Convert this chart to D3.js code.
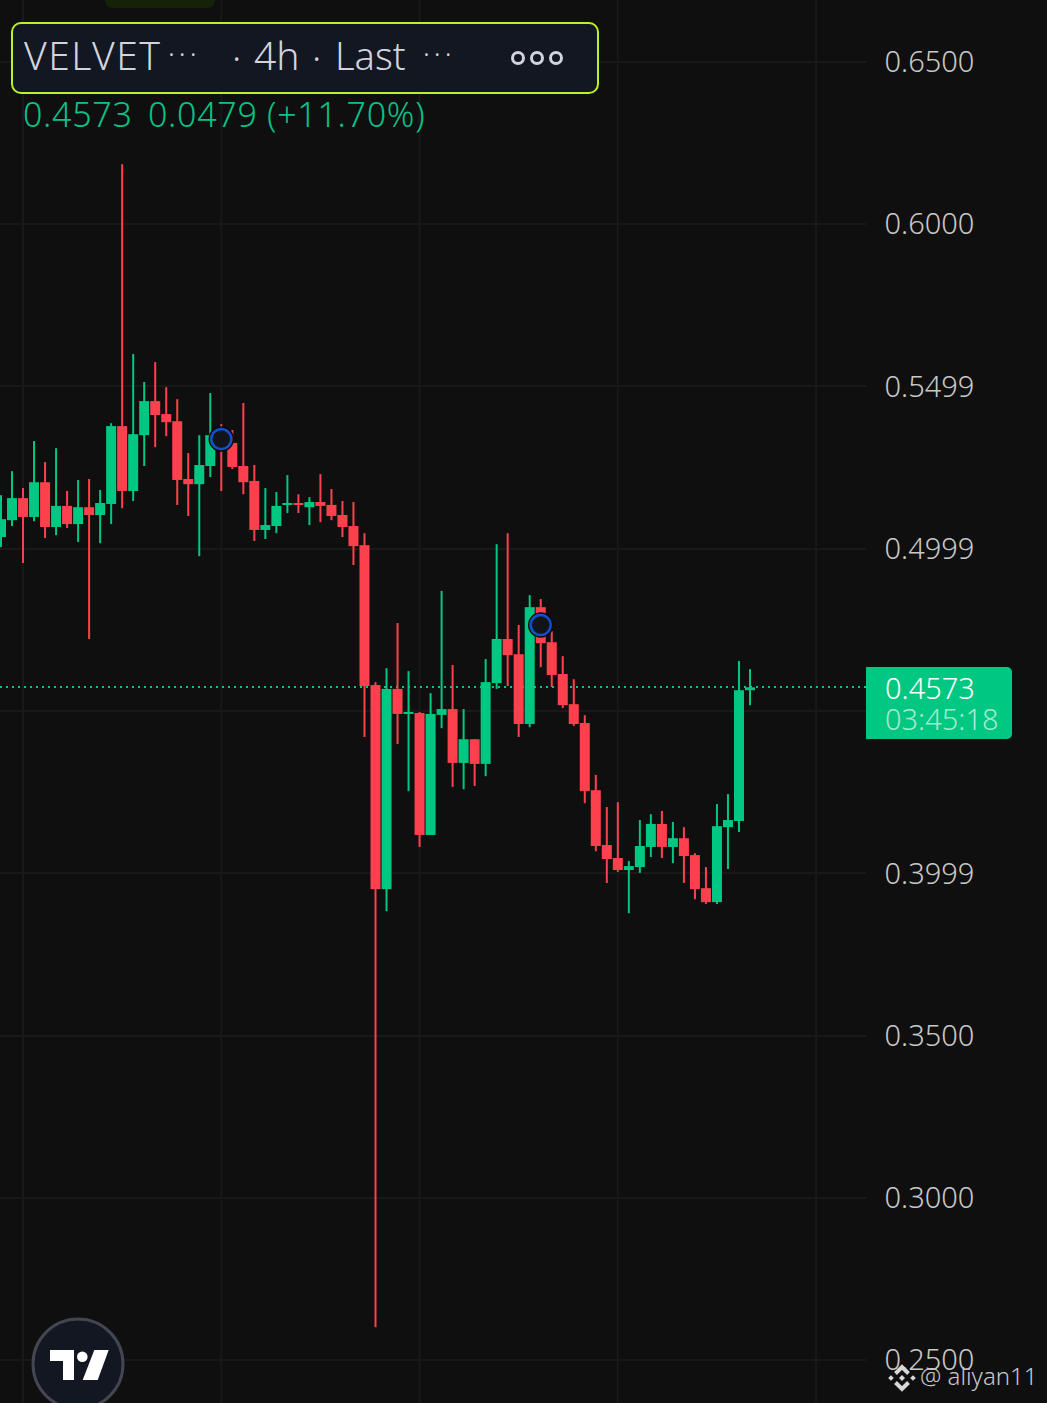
<!DOCTYPE html>
<html>
<head>
<meta charset="utf-8">
<style>
  html, body { margin: 0; padding: 0; background: #0f0f0f; }
  svg { display: block; font-family: "Noto Sans", sans-serif; font-weight: 350; }
</style>
<script src="https://cdn.jsdelivr.net/npm/d3@7"></script>
</head>
<body>
<svg width="1047" height="1403"></svg>
<script>
// candles, oldest first
const opens = [.5036,.5088,.5156,.5098,.5205,.5067,.5132,.5076,.5128,.5104,.5138,.5378,.5178,.5350,.5455,.5415,.5393,.5215,.5199,.5255,.5350,.5326,.5255,.5209,.5058,.5070,.5135,.5141,.5128,.5144,.5135,.5104,.5070,.5011,.4580,.3951,.4568,.4491,.4494,.4118,.4488,.4506,.4340,.4413,.4337,.4586,.4722,.4675,.4460,.4820,.4712,.4614,.4521,.4463,.4256,.4087,.4047,.4010,.4019,.4081,.4152,.4081,.4108,.4056,.3954,.3911,.4142,.4161,.4564];
const highs = [.5165,.5239,.5187,.5332,.5267,.5310,.5178,.5212,.5215,.5181,.5387,.6185,.5600,.5514,.5575,.5498,.5461,.5295,.5350,.5480,.5384,.5366,.5449,.5258,.5187,.5175,.5227,.5168,.5159,.5230,.5184,.5147,.5144,.5048,.4589,.4632,.4771,.4623,.4497,.4555,.4870,.4642,.4506,.4413,.4660,.5014,.5048,.4765,.4857,.4845,.4746,.4669,.4598,.4487,.4303,.4204,.4219,.4038,.4164,.4182,.4192,.4158,.4142,.4062,.4019,.4213,.4244,.4654,.4629];
const lows = [.5005,.5070,.4956,.5085,.5033,.5042,.5064,.5021,.4722,.5017,.5076,.5125,.5147,.5255,.5313,.5347,.5135,.5101,.4977,.5221,.5178,.5246,.5168,.5024,.5030,.5048,.5110,.5110,.5073,.5082,.5088,.5036,.4950,.4420,.2601,.3883,.4398,.4253,.4081,.4118,.4447,.4266,.4259,.4269,.4299,.4568,.4577,.4420,.4450,.4635,.4574,.4509,.4454,.4216,.4068,.3970,.4004,.3877,.4001,.4050,.4047,.4031,.3970,.3920,.3905,.3905,.4013,.4127,.4518];
const closes = [.5091,.5156,.5098,.5205,.5067,.5132,.5076,.5128,.5104,.5141,.5378,.5178,.5353,.5455,.5412,.5390,.5212,.5199,.5258,.5350,.5326,.5252,.5205,.5058,.5073,.5132,.5141,.5135,.5144,.5132,.5101,.5067,.5008,.4577,.3951,.4568,.4491,.4497,.4118,.4491,.4506,.4340,.4413,.4337,.4589,.4722,.4672,.4460,.4820,.4709,.4611,.4518,.4460,.4253,.4084,.4044,.4010,.4022,.4084,.4152,.4081,.4108,.4053,.3951,.3911,.4145,.4164,.4564,.4573];

const priceTicks = [.65, .6, .5499, .4999, .3999, .35, .3, .25];
const gridPrices = [.65, .6, .55, .5, .45, .4, .35, .3, .25];
const gridCandles = [2, 20, 38, 56, 74];
const markerCandles = [20, 49];
const markerPrices = [.5338, .4765];
const lastPrice = 0.4573;
const countdown = "03:45:18";
const legendTexts = ["0.4573", "0.0479 (+11.70%)"];

const GREEN = "#00c781", RED = "#fd404e", BG = "#0f0f0f";

const svg = d3.select("svg");
const y = d3.scaleLinear().domain([.65, .25]).range([62, 1360]);
const x = d3.scaleLinear().domain([0, 68]).range([1, 750]);

svg.append("rect").attr("width", 1047).attr("height", 1403).attr("fill", BG);

// grid
svg.append("g").selectAll("line").data(gridPrices).join("line")
    .attr("x1", 0).attr("x2", 866)
    .attr("y1", d => Math.round(y(d))).attr("y2", d => Math.round(y(d)))
    .attr("stroke", "#191919").attr("stroke-width", 2);
svg.append("g").selectAll("line").data(gridCandles).join("line")
    .attr("x1", d => x(d)).attr("x2", d => x(d))
    .attr("y1", 0).attr("y2", 1403)
    .attr("stroke", "#191919").attr("stroke-width", 2);

// top edge of something cut off by the screenshot
svg.append("rect").attr("x", 105).attr("y", -12).attr("width", 110).attr("height", 20).attr("rx", 8)
    .attr("fill", "#142208");

// price axis
const axis = d3.axisRight(y).tickValues(priceTicks).tickSize(0).tickPadding(0).tickFormat(d3.format(".4f"));
const axisG = svg.append("g").attr("transform", "translate(884.5,-0.5)").call(axis);
axisG.select(".domain").remove();
axisG.selectAll("text").attr("fill", "#c8c8c8").attr("font-size", 29)
    .attr("font-family", "'Noto Sans', sans-serif").attr("font-weight", 350).attr("dy", "0.35em");

// last price line
svg.append("line")
    .attr("x1", 0).attr("x2", 866)
    .attr("y1", Math.round(y(lastPrice))).attr("y2", Math.round(y(lastPrice)))
    .attr("stroke", GREEN).attr("stroke-width", 2).attr("stroke-dasharray", "2 4");

// candles
const candles = opens.map((o, i) => ({i, o, h: highs[i], l: lows[i], c: closes[i]}));
const colour = d => d.c >= d.o ? GREEN : RED;
const candleG = svg.append("g");
candleG.selectAll(".wick").data(candles).join("rect").attr("class", "wick")
    .attr("x", d => x(d.i) - 1).attr("width", 2)
    .attr("y", d => y(d.h)).attr("height", d => y(d.l) - y(d.h))
    .attr("fill", colour);
candleG.selectAll(".body").data(candles).join("rect").attr("class", "body")
    .attr("x", d => x(d.i) - 5).attr("width", 10)
    .attr("y", d => y(Math.max(d.o, d.c)))
    .attr("height", d => Math.max(2, Math.abs(y(d.o) - y(d.c))))
    .attr("fill", colour);

// event markers
svg.append("g").selectAll("circle").data(markerCandles).join("circle")
    .attr("cx", d => x(d))
    .attr("cy", (d, i) => y(markerPrices[i]))
    .attr("r", 10).attr("fill", "#111418")
    .attr("stroke", "#0d50d2").attr("stroke-width", 2.5);
svg.append("g").selectAll("circle").data(markerCandles).join("circle")
    .attr("cx", d => x(d))
    .attr("cy", (d, i) => y(markerPrices[i]))
    .attr("r", 12).attr("fill", "none")
    .attr("stroke", "#0a0a0c").attr("stroke-width", 1.5);

// price label
svg.append("path")
    .attr("d", "M866,667H1007a5,5 0 0 1 5,5V734a5,5 0 0 1 -5,5H866Z")
    .attr("fill", GREEN);
svg.append("text").attr("x", 885).attr("y", 698.5).attr("font-size", 29).attr("fill", "#fff")
    .text(lastPrice.toFixed(4));
svg.append("text").attr("x", 885).attr("y", 730).attr("font-size", 29).attr("fill", "#fff")
    .attr("fill-opacity", .65).text(countdown);

// legend box
svg.append("rect").attr("x", 12).attr("y", 23).attr("width", 586).attr("height", 70).attr("rx", 9)
    .attr("fill", "#131722").attr("stroke", "#b9f227").attr("stroke-width", 2);
const title = svg.append("g").attr("fill", "#d1d4dc").attr("font-size", 38);
title.append("text").attr("x", 24).attr("y", 70).attr("font-size", 39).attr("letter-spacing", 1.5).text("VELVET");
title.append("text").attr("x", 168).attr("y", 64).attr("font-size", 28).attr("letter-spacing", 4).text("···");
title.append("text").attr("x", 232).attr("y", 72).text("·");
title.append("text").attr("x", 254).attr("y", 70).attr("font-size", 39).text("4h");
title.append("text").attr("x", 312).attr("y", 72).text("·");
title.append("text").attr("x", 335).attr("y", 70).text("Last");
title.append("text").attr("x", 423).attr("y", 64).attr("font-size", 28).attr("letter-spacing", 4).text("···");
svg.append("g").selectAll("circle").data([518, 537, 556]).join("circle")
    .attr("cx", d => d).attr("cy", 58).attr("r", 5.5)
    .attr("fill", "none").attr("stroke", "#d1d4dc").attr("stroke-width", 3);

svg.append("text").attr("x", 23).attr("y", 127).attr("font-size", 34).attr("letter-spacing", .7).attr("fill", "#0cc088").text(legendTexts[0]);
svg.append("text").attr("x", 148).attr("y", 127).attr("font-size", 34).attr("letter-spacing", .7).attr("fill", "#0cc088").text(legendTexts[1]);

// tradingview badge
svg.append("circle").attr("cx", 78).attr("cy", 1364).attr("r", 45)
    .attr("fill", "#131722").attr("stroke", "#434651").attr("stroke-width", 3);
svg.append("path").attr("fill", "#fff")
    .attr("d", "M50,1350H74V1380H63V1361H50Z M94.3,1350H108.7L97.7,1380H82.7Z");
svg.append("circle").attr("cx", 82.3).attr("cy", 1356.7).attr("r", 5.3).attr("fill", "#fff");

// watermark, the small diamond logo
const wm = svg.append("g").attr("transform", "translate(902,1378)");
wm.append("path").attr("fill", "none").attr("stroke", "#d8d8d8").attr("stroke-width", 4)
    .attr("d", "M-6.5,-4.5L0,-11L6.5,-4.5 M-6.5,4.5L0,11L6.5,4.5");
[[-11, 0, 2.8], [11, 0, 2.8], [0, 0, 3]].forEach(([dx, dy, s]) => {
    wm.append("path").attr("fill", "#d8d8d8")
        .attr("d", `M${dx},${dy - s}L${dx + s},${dy}L${dx},${dy + s}L${dx - s},${dy}Z`);
});
svg.append("text").attr("x", 920).attr("y", 1385).attr("font-size", 24).attr("fill", "#c8c8c8").text("@ aliyan11");
</script>
</body>
</html>
